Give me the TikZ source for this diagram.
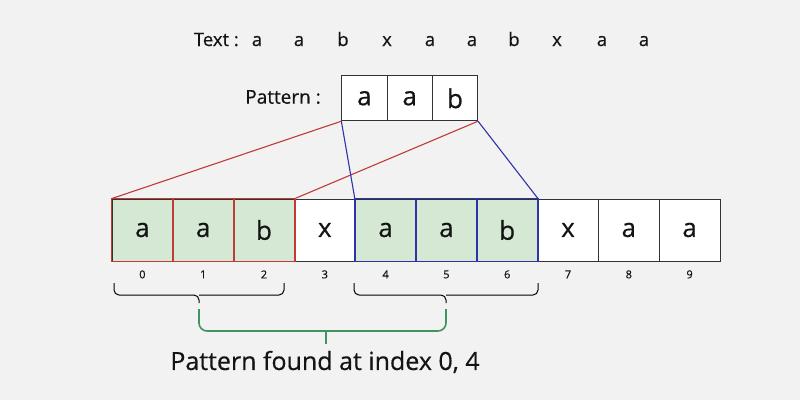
\documentclass[tikz,border=0pt]{standalone}
\usepackage{fontspec}
\setmainfont{Open Sans}[BoldFont={Open Sans}, BoldFeatures={FakeBold=0.45}]
\usetikzlibrary{calc}
\definecolor{bg}{HTML}{F2F2F2}
\definecolor{cellgreen}{HTML}{D5E8D4}
\definecolor{redc}{HTML}{C03A36}
\definecolor{bluec}{HTML}{2E33A6}
\definecolor{greenc}{HTML}{3F9460}
\definecolor{ink}{HTML}{141414}
\tikzset{
  cell/.style={draw=black!80, line width=0.8pt, fill=white, minimum width=60.8pt, minimum height=62pt, inner sep=0pt, text=ink, font=\fontsize{26}{28}\selectfont\bfseries},
  hit/.style={cell, fill=cellgreen},
  pcell/.style={draw=black!80, line width=0.8pt, fill=white, minimum width=45.3pt, minimum height=45pt, inner sep=0pt, text=ink, font=\fontsize{26}{28}\selectfont\bfseries},
  idx/.style={font=\fontsize{11}{12}\selectfont\bfseries, inner sep=0pt, text=ink},
  txt/.style={font=\fontsize{18.5}{20}\selectfont\bfseries, inner sep=0pt, anchor=base, text=ink},
  brace/.style={draw=black, line width=1pt, rounded corners=5pt},
  conn/.style={line width=1.1pt},
}
\begin{document}
\begin{tikzpicture}[x=1pt,y=-1pt]
\path[fill=bg] (0,0) rectangle (800,400);
\useasboundingbox (0,0) rectangle (800,400);
% Text row
\node[txt, anchor=base east] (tl) at (239,46) {Text :};
\foreach \c/\x [count=\i from 0] in {a/257,a/299,b/343,x/387,a/430,a/472,b/514,x/557,a/602,a/644}
  \node[txt] (t\i) at (\x,46) {\c};
% Pattern
\node[font=\fontsize{19}{21}\selectfont\bfseries, text=ink, anchor=east, inner sep=0pt] (pl) at (321,97) {Pattern :};
\foreach \c [count=\i from 0] in {a,a,b}
  \node[pcell] (p\i) at ({364.4+45.3*\i},98.3) {\c};
% Main array
\foreach \c/\s [count=\i from 0] in {a/hit,a/hit,b/hit,x/cell,a/hit,a/hit,b/hit,x/cell,a/cell,a/cell}
  \node[\s] (c\i) at ({142.4+60.8*\i},230) {\c};
\foreach \i in {0,...,9}
  \node[idx] (n\i) at ($(c\i.south)+(0,13)$) {\i};
% match outlines
\foreach \i in {0,1,2}
  \draw[redc, line width=1.4pt] (c\i.north west) rectangle (c\i.south east);
\foreach \i in {4,5,6}
  \draw[bluec, line width=1.4pt] (c\i.north west) rectangle (c\i.south east);
% connectors
\draw[redc, conn] (p0.south west) -- (c0.north west);
\draw[redc, conn] (p2.south east) -- (c2.north east);
\draw[bluec, conn] (p0.south west) -- (c4.north west);
\draw[bluec, conn] (p2.south east) -- (c6.north east);
% braces
\coordinate (b1l) at (114,283);
\coordinate (b1r) at (284,283);
\coordinate (b1t) at (199,303);
\coordinate (b2l) at (354,283);
\coordinate (b2r) at (538,283);
\coordinate (b2t) at (446,303);
\draw[brace] (b1l) -- (114,295) -- (199,295) -- (b1t);
\draw[brace] (b1r) -- (284,295) -- (199,295);
\draw[brace] (b2l) -- (354,295) -- (446,295) -- (b2t);
\draw[brace] (b2r) -- (538,295) -- (446,295);
% green bracket
\node[font=\fontsize{25}{28}\selectfont\bfseries, text=ink, inner sep=0pt] (res) at (325,362) {Pattern found at index 0, 4};
\coordinate (g1) at (199,309);
\coordinate (g2) at (446,309);
\coordinate (gm) at (326,331);
\draw[greenc, line width=1.6pt, rounded corners=8pt] (g1) -- (199,331) -- (446,331) -- (g2);
\draw[greenc, line width=1.6pt] (gm) -- (326,344);
\end{tikzpicture}
\end{document}
